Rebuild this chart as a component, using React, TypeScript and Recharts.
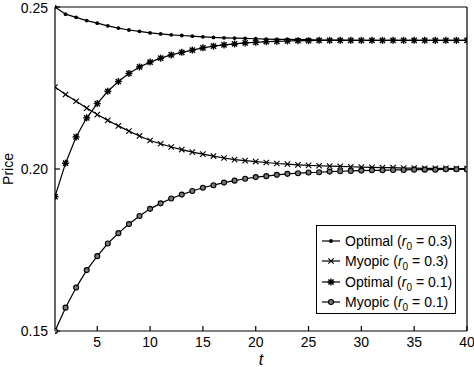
import React from "react";
import { LineChart, Line, XAxis, YAxis } from "recharts";

// ─── Data ────────────────────────────────────────────────
const T = Array.from({ length: 40 }, (_, i) => i + 1);

const OPTIMAL_03 = [
  0.25, 0.2478, 0.2468, 0.2458, 0.245, 0.2442, 0.2435, 0.2429, 0.2425, 0.242,
  0.2417, 0.2414, 0.2412, 0.241, 0.2408, 0.2406, 0.2405, 0.2404, 0.2403, 0.2402,
  0.2401, 0.24, 0.24, 0.2399, 0.2399, 0.2398, 0.2398, 0.2398, 0.2397, 0.2397,
  0.2397, 0.2397, 0.2397, 0.2397, 0.2397, 0.2397, 0.2397, 0.2397, 0.2397, 0.2397,
];

const MYOPIC_03 = [
  0.2253, 0.223, 0.2209, 0.2188, 0.2168, 0.215, 0.2133, 0.2117, 0.2102, 0.2088,
  0.2078, 0.2068, 0.206, 0.2052, 0.2046, 0.204, 0.2034, 0.2029, 0.2026, 0.2023,
  0.202, 0.2017, 0.2015, 0.2013, 0.2011, 0.201, 0.2009, 0.2008, 0.2007, 0.2006,
  0.2005, 0.2004, 0.2004, 0.2003, 0.2003, 0.2002, 0.2002, 0.2002, 0.2001, 0.2001,
];

const OPTIMAL_01 = [
  0.1915, 0.2018, 0.2099, 0.2158, 0.2202, 0.224, 0.227, 0.2295, 0.2315, 0.233,
  0.2342, 0.2352, 0.236, 0.2367, 0.2374, 0.2379, 0.2383, 0.2386, 0.2389, 0.2391,
  0.2393, 0.2394, 0.2395, 0.2396, 0.2396, 0.2397, 0.2397, 0.2397, 0.2397, 0.2397,
  0.2397, 0.2397, 0.2397, 0.2397, 0.2397, 0.2397, 0.2397, 0.2397, 0.2397, 0.2397,
];

const MYOPIC_01 = [
  0.15, 0.1572, 0.1634, 0.1688, 0.1731, 0.177, 0.1802, 0.183, 0.1855, 0.1877,
  0.1894, 0.1909, 0.1921, 0.1932, 0.1942, 0.195, 0.1958, 0.1964, 0.197, 0.1975,
  0.1978, 0.1982, 0.1985, 0.1987, 0.1989, 0.199, 0.1992, 0.1993, 0.1994, 0.1995,
  0.1996, 0.1996, 0.1997, 0.1997, 0.1998, 0.1998, 0.1998, 0.1999, 0.1999, 0.1999,
];

const X_TICKS = [5, 10, 15, 20, 25, 30, 35, 40];
const Y_TICKS = [0.15, 0.2, 0.25];

const data = T.map((t, i) => ({
  t,
  opt03: OPTIMAL_03[i],
  myo03: MYOPIC_03[i],
  opt01: OPTIMAL_01[i],
  myo01: MYOPIC_01[i],
}));

const FONT = "'Liberation Sans', Arial, sans-serif";

// ─── Markers ─────────────────────────────────────────────
type MarkProps = { cx?: number; cy?: number };

function DotMark({ cx, cy }: MarkProps) {
  if (cx == null || cy == null) return null;
  return <circle cx={cx} cy={cy} r={1.9} fill="#000" />;
}

function CrossMark({ cx, cy }: MarkProps) {
  if (cx == null || cy == null) return null;
  const s = 2.7;
  return (
    <g stroke="#000" strokeWidth={1.1}>
      <line x1={cx - s} y1={cy - s} x2={cx + s} y2={cy + s} />
      <line x1={cx - s} y1={cy + s} x2={cx + s} y2={cy - s} />
    </g>
  );
}

function StarMark({ cx, cy }: MarkProps) {
  if (cx == null || cy == null) return null;
  const s = 3.5;
  const d = 2.6;
  return (
    <g stroke="#000" strokeWidth={1.4}>
      <line x1={cx - s} y1={cy} x2={cx + s} y2={cy} />
      <line x1={cx} y1={cy - s} x2={cx} y2={cy + s} />
      <line x1={cx - d} y1={cy - d} x2={cx + d} y2={cy + d} />
      <line x1={cx - d} y1={cy + d} x2={cx + d} y2={cy - d} />
      <circle cx={cx} cy={cy} r={1.8} fill="#000" stroke="none" />
    </g>
  );
}

function CircleMark({ cx, cy }: MarkProps) {
  if (cx == null || cy == null) return null;
  return (
    <circle cx={cx} cy={cy} r={2.5} fill="#777" stroke="#000" strokeWidth={1.1} />
  );
}

const SERIES = [
  { key: "opt03", name: "Optimal", r0: "0.3", Mark: DotMark },
  { key: "myo03", name: "Myopic", r0: "0.3", Mark: CrossMark },
  { key: "opt01", name: "Optimal", r0: "0.1", Mark: StarMark },
  { key: "myo01", name: "Myopic", r0: "0.1", Mark: CircleMark },
];

// ─── Legend ──────────────────────────────────────────────
function BoxLegend() {
  return (
    <div
      style={{
        position: "absolute",
        left: 316,
        top: 225,
        width: 140,
        height: 89,
        border: "1px solid #000",
        background: "#fff",
        padding: "5px 0 0 4px",
        fontFamily: FONT,
        fontSize: 14,
        color: "#000",
        boxSizing: "border-box",
      }}
    >
      {SERIES.map((s) => (
        <div
          key={s.key}
          style={{ display: "flex", alignItems: "center", height: 20.3 }}
        >
          <svg width={22} height={10} style={{ marginRight: 2 }}>
            <line x1={1} y1={5} x2={19} y2={5} stroke="#000" strokeWidth={1.2} />
            <s.Mark cx={10} cy={5} />
          </svg>
          <span style={{ whiteSpace: "nowrap", lineHeight: "16px" }}>
            {s.name} (<i>r</i>
            <sub style={{ fontSize: 10, lineHeight: 0 }}>0</sub> = {s.r0})
          </span>
        </div>
      ))}
    </div>
  );
}

// ─── Chart ───────────────────────────────────────────────
export default function App() {
  const tickStyle = { fontSize: 14, fill: "#000", fontFamily: FONT };
  return (
    <div
      style={{
        position: "absolute",
        left: 0,
        top: 0,
        width: 474,
        height: 367,
        background: "#fff",
      }}
    >
      <LineChart
        width={474}
        height={367}
        data={data}
        margin={{ top: 6, right: 6, left: 0, bottom: 0 }}
      >
        <XAxis
          xAxisId="b"
          dataKey="t"
          type="number"
          domain={[1, 40]}
          ticks={X_TICKS}
          allowDataOverflow
          height={36}
          tickSize={-5}
          tickMargin={11}
          tick={tickStyle}
          stroke="#000"
          strokeWidth={1.2}
          label={{
            value: "t",
            position: "insideBottom",
            offset: 2,
            style: { fontStyle: "italic", fontSize: 16, fill: "#000", fontFamily: FONT },
          }}
        />
        <XAxis
          xAxisId="top"
          orientation="top"
          dataKey="t"
          type="number"
          domain={[1, 40]}
          ticks={X_TICKS}
          height={1}
          tickSize={-5}
          tick={false}
          stroke="#000"
          strokeWidth={1.2}
        />
        <YAxis
          yAxisId="l"
          type="number"
          domain={[0.15, 0.25]}
          ticks={Y_TICKS}
          width={55}
          tickSize={-5}
          tickMargin={12}
          tick={tickStyle}
          tickFormatter={(v: number) => v.toFixed(2)}
          stroke="#000"
          strokeWidth={1.2}
          label={{
            value: "Price",
            angle: -90,
            position: "insideLeft",
            offset: 8,
            style: { textAnchor: "middle", fontSize: 14, fill: "#000", fontFamily: FONT },
          }}
        />
        <YAxis
          yAxisId="r"
          orientation="right"
          type="number"
          domain={[0.15, 0.25]}
          ticks={Y_TICKS}
          width={1}
          tickSize={-5}
          tick={false}
          stroke="#000"
          strokeWidth={1.2}
        />
        {SERIES.map((s) => (
          <Line
            key={s.key}
            xAxisId="b"
            yAxisId="l"
            dataKey={s.key}
            name={s.name}
            type="linear"
            stroke="#000"
            strokeWidth={1.2}
            dot={(p: any) => <s.Mark key={`${s.key}-${p.index}`} cx={p.cx} cy={p.cy} />}
            activeDot={false}
            isAnimationActive={false}
          />
        ))}
      </LineChart>
      <BoxLegend />
    </div>
  );
}
